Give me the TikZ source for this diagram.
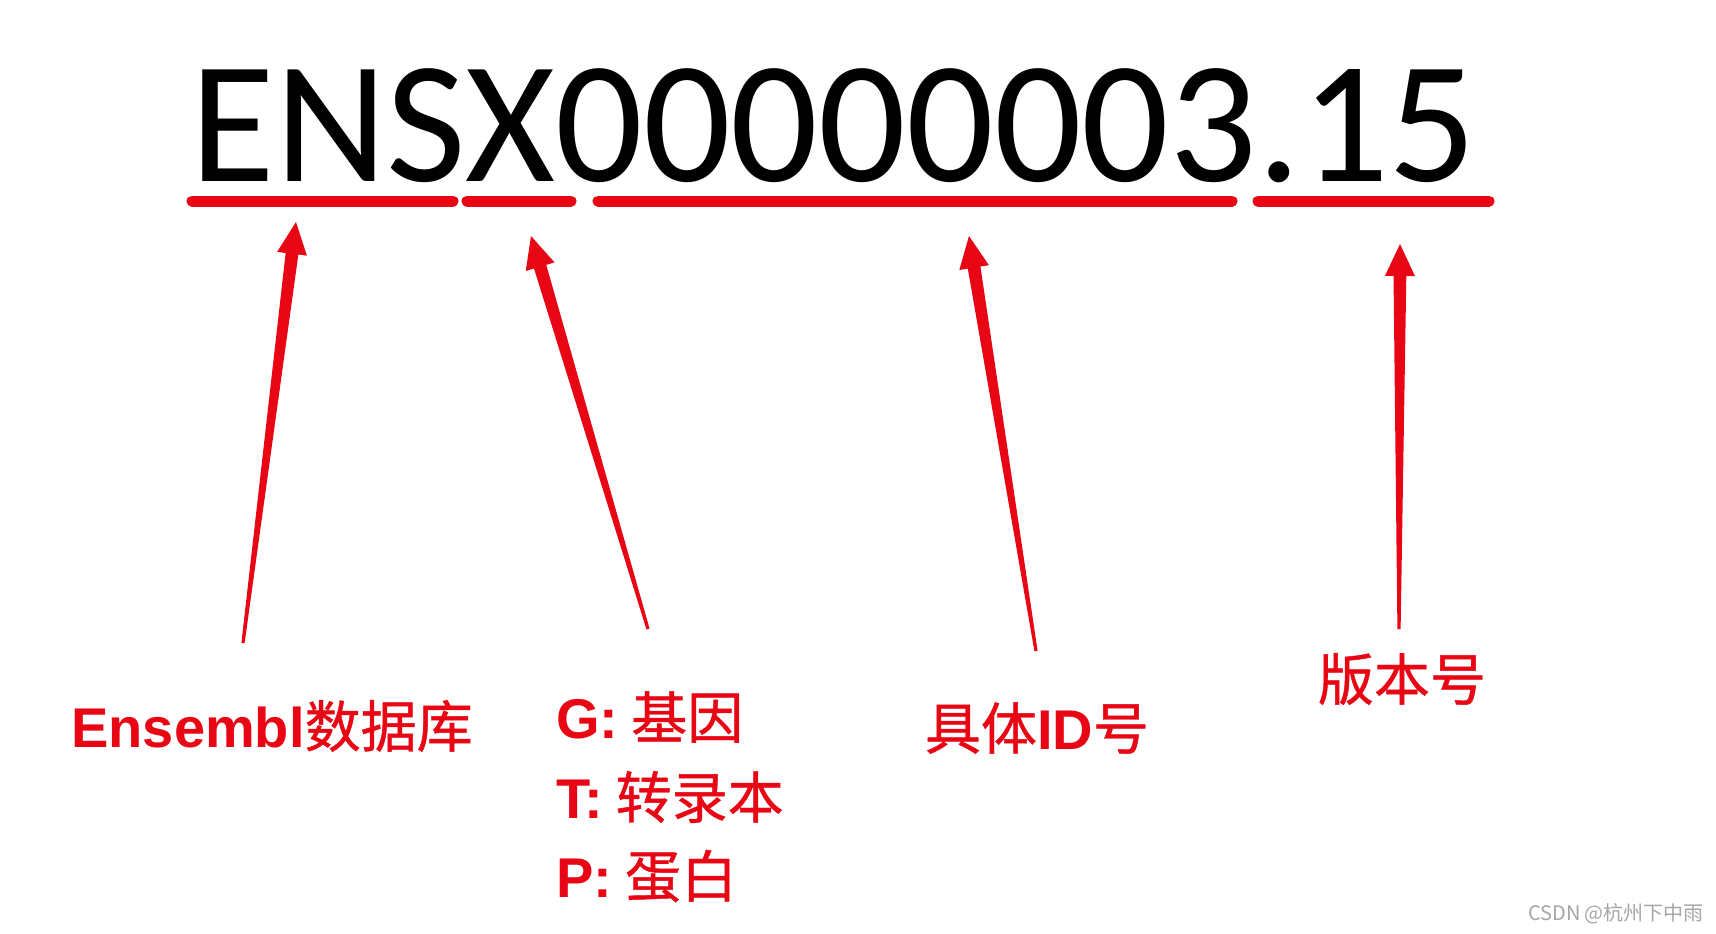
\documentclass[tikz,border=0pt]{standalone}
\usepackage{fontspec}
\setmainfont{Carlito}
\newfontfamily\cjk[FakeBold=0.8]{Noto Sans CJK SC}
\newfontfamily\plaincjk{Noto Sans CJK SC}
\newfontfamily\latn{Liberation Sans}
\usetikzlibrary{calc}
\definecolor{idred}{RGB}{232,6,20}
\definecolor{markgray}{RGB}{165,165,165}

% tapered arrow: thin tail, thick shaft near the head
\newcommand{\redarrow}[2]{%
  \coordinate (hb) at ($(#2)!16pt!(#1)$);
  \fill[idred] ($(#1)!0.8pt!90:(#2)$) -- ($(hb)!3.2pt!90:(#2)$)
    -- ($(hb)!7.5pt!90:(#2)$) -- (#2) -- ($(hb)!7.5pt!-90:(#2)$)
    -- ($(hb)!3.2pt!-90:(#2)$) -- ($(#1)!0.8pt!-90:(#2)$) -- cycle;}

\begin{document}
\begin{tikzpicture}[x = 0.5pt , y = -0.5pt ,
    redline/.style = {idred , line width = 5.5pt , line cap = round},
    lbl/.style = {text = idred , inner sep = 0pt , font = \fontsize{28pt}{34pt}\selectfont}]
    \useasboundingbox (0,0) rectangle (1716,933);

    % identifier
    \node[anchor = base , inner sep = 0pt] (ident) at (833.5,181)
        {\fontsize{87pt}{90pt}\selectfont\scalebox{0.995}[1]{ENSX00000003.15}};

    % underlines
    \draw[redline] (192,201) -- (453,201);
    \draw[redline] (467,201) -- (571,201);
    \draw[redline] (598,201) -- (1232,201);
    \draw[redline] (1258,201) -- (1489,201);

    % labels
    \node[lbl] (db) at (272,726) {{\latn\bfseries Ensembl}{\cjk 数据库}};
    \node[lbl , anchor = west] (kg) at (556,717) {{\latn\bfseries G:} {\cjk 基因}};
    \node[lbl , anchor = west] (kt) at (556,797) {{\latn\bfseries T:} {\cjk 转录本}};
    \node[lbl , anchor = west] (kp) at (556,876) {{\latn\bfseries P:} {\cjk 蛋白}};
    \node[lbl] (idnum) at (1037,728) {{\cjk 具体}{\latn\bfseries ID}{\cjk 号}};
    \node[lbl] (ver) at (1402,679) {\cjk 版本号};
    \node[text = markgray , font = \plaincjk\fontsize{10pt}{12pt}\selectfont] (mark) at (1616,914) {CSDN @杭州下中雨};

    % arrow ends
    \coordinate (s1) at (243,643);  \coordinate (e1) at (296,222);
    \coordinate (s2) at (648,629);  \coordinate (e2) at (531,236);
    \coordinate (s3) at (1036,651); \coordinate (e3) at (969,236);
    \coordinate (s4) at (1399,629); \coordinate (e4) at (1400,244);

    \redarrow{s1}{e1}
    \redarrow{s2}{e2}
    \redarrow{s3}{e3}
    \redarrow{s4}{e4}
\end{tikzpicture}
\end{document}
